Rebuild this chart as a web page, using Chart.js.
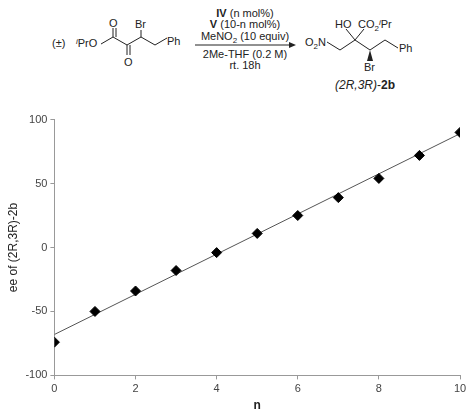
<!DOCTYPE html>
<html>
<head>
<meta charset="utf-8">
<script src="https://cdn.jsdelivr.net/npm/chart.js@4/dist/chart.umd.min.js"></script>
<style>
  body { margin: 0; background: #fff; font-family: "Liberation Sans", Arial, sans-serif; }
  #scheme { position: absolute; left: 0; top: 0; width: 474px; height: 110px; }
  #wrap { position: absolute; left: 0; top: 110px; width: 474px; height: 303px; }
</style>
</head>
<body>
<svg id="scheme" width="474" height="110" font-family="Liberation Sans, Arial" font-size="11" fill="#222" stroke="#222" stroke-width="1">
  <text x="52" y="47" stroke="none">(±)</text>
  <text x="76" y="47" stroke="none"><tspan font-style="italic" font-size="8" dy="-3">i</tspan><tspan dy="3">PrO</tspan></text>
  <line x1="101" y1="44" x2="113" y2="37"/>
  <line x1="113" y1="37" x2="113" y2="28"/><line x1="116" y1="37" x2="116" y2="28"/>
  <text x="109" y="27" stroke="none">O</text>
  <line x1="113" y1="37" x2="127" y2="45"/>
  <line x1="127" y1="45" x2="127" y2="55"/><line x1="130" y1="45" x2="130" y2="55"/>
  <text x="124" y="66" stroke="none">O</text>
  <line x1="127" y1="45" x2="141" y2="37"/>
  <line x1="141" y1="37" x2="141" y2="30"/>
  <text x="135" y="28" stroke="none">Br</text>
  <line x1="141" y1="37" x2="155" y2="45"/>
  <line x1="155" y1="45" x2="167" y2="38"/>
  <text x="167" y="45" stroke="none">Ph</text>

  <text x="245" y="17" text-anchor="middle" stroke="none"><tspan font-weight="bold">IV</tspan> (n mol%)</text>
  <text x="245" y="28" text-anchor="middle" stroke="none"><tspan font-weight="bold">V</tspan> (10-n mol%)</text>
  <text x="245" y="40" text-anchor="middle" stroke="none">MeNO<tspan font-size="8" dy="3">2</tspan><tspan dy="-3"> (10 equiv)</tspan></text>
  <line x1="195" y1="45" x2="292" y2="45"/>
  <polygon points="296,45 289,42 289,48" stroke="none"/>
  <text x="245" y="58" text-anchor="middle" stroke="none">2Me-THF (0.2 M)</text>
  <text x="245" y="69" text-anchor="middle" stroke="none">rt. 18h</text>

  <text x="305" y="46" stroke="none">O<tspan font-size="8" dy="3">2</tspan><tspan dy="-3">N</tspan></text>
  <line x1="327" y1="42" x2="340" y2="50"/>
  <line x1="340" y1="50" x2="355" y2="40"/>
  <line x1="355" y1="40" x2="346" y2="29"/>
  <text x="335" y="28" stroke="none">HO</text>
  <line x1="355" y1="40" x2="364" y2="29"/>
  <text x="358" y="28" stroke="none">CO<tspan font-size="8" dy="3">2</tspan><tspan font-style="italic" font-size="8" dy="-6">i</tspan><tspan dy="3">Pr</tspan></text>
  <line x1="355" y1="40" x2="370" y2="50"/>
  <polygon points="370,50 367,61 373,61" stroke="none"/>
  <text x="364" y="71" stroke="none">Br</text>
  <line x1="370" y1="50" x2="385" y2="40"/>
  <line x1="385" y1="40" x2="398" y2="48"/>
  <text x="399" y="52" stroke="none">Ph</text>
  <text x="335" y="89" stroke="none" font-size="12"><tspan font-style="italic">(2R,3R)</tspan>-<tspan font-weight="bold">2b</tspan></text>
</svg>
<div id="wrap"><canvas id="chart"></canvas></div>
<script>
// valores
const nValores = [0, 1, 2, 3, 4, 5, 6, 7, 8, 9, 10];
const eeValores = [-74, -50, -34, -18, -4, 11, 25, 39, 54, 72, 90];
const tendenciaX = [0, 10];
const tendenciaY = [-68, 89];

function criarGrafico() {
    const ctx = document.getElementById('chart').getContext('2d');
    new Chart(ctx, {
        type: 'scatter',
        data: {
            datasets: [
                {
                    label: 'ee',
                    data: nValores.map((n, i) => ({ x: n, y: eeValores[i] })),
                    pointStyle: 'rectRot',
                    pointRadius: 5,
                    backgroundColor: '#000',
                    borderColor: '#000'
                },
                {
                    label: 'Linear',
                    type: 'line',
                    data: tendenciaX.map((x, i) => ({ x: x, y: tendenciaY[i] })),
                    borderColor: '#555',
                    borderWidth: 1,
                    pointRadius: 0,
                    fill: false
                }
            ]
        },
        options: {
            responsive: true,
            maintainAspectRatio: false,
            animation: false,
            layout: { padding: { top: 6, right: 14, left: 4, bottom: 0 } },
            plugins: { legend: { display: false }, tooltip: { enabled: false } },
            scales: {
                x: {
                    type: 'linear', min: 0, max: 10,
                    ticks: { stepSize: 2, color: '#444', font: { size: 11 } },
                    grid: { drawOnChartArea: false, color: '#999', tickLength: 4 },
                    border: { color: '#999' },
                    title: { display: true, text: 'n', color: '#222', font: { size: 12, weight: 'bold' }, padding: 0 }
                },
                y: {
                    min: -100, max: 100,
                    ticks: { stepSize: 50, color: '#444', font: { size: 11 } },
                    grid: { drawOnChartArea: false, color: '#999', tickLength: 4 },
                    border: { color: '#999' },
                    title: { display: true, text: 'ee of (2R,3R)-2b', color: '#222', font: { size: 12 }, padding: 2 }
                }
            }
        }
    });
}

document.addEventListener('DOMContentLoaded', criarGrafico);
</script>
</body>
</html>
